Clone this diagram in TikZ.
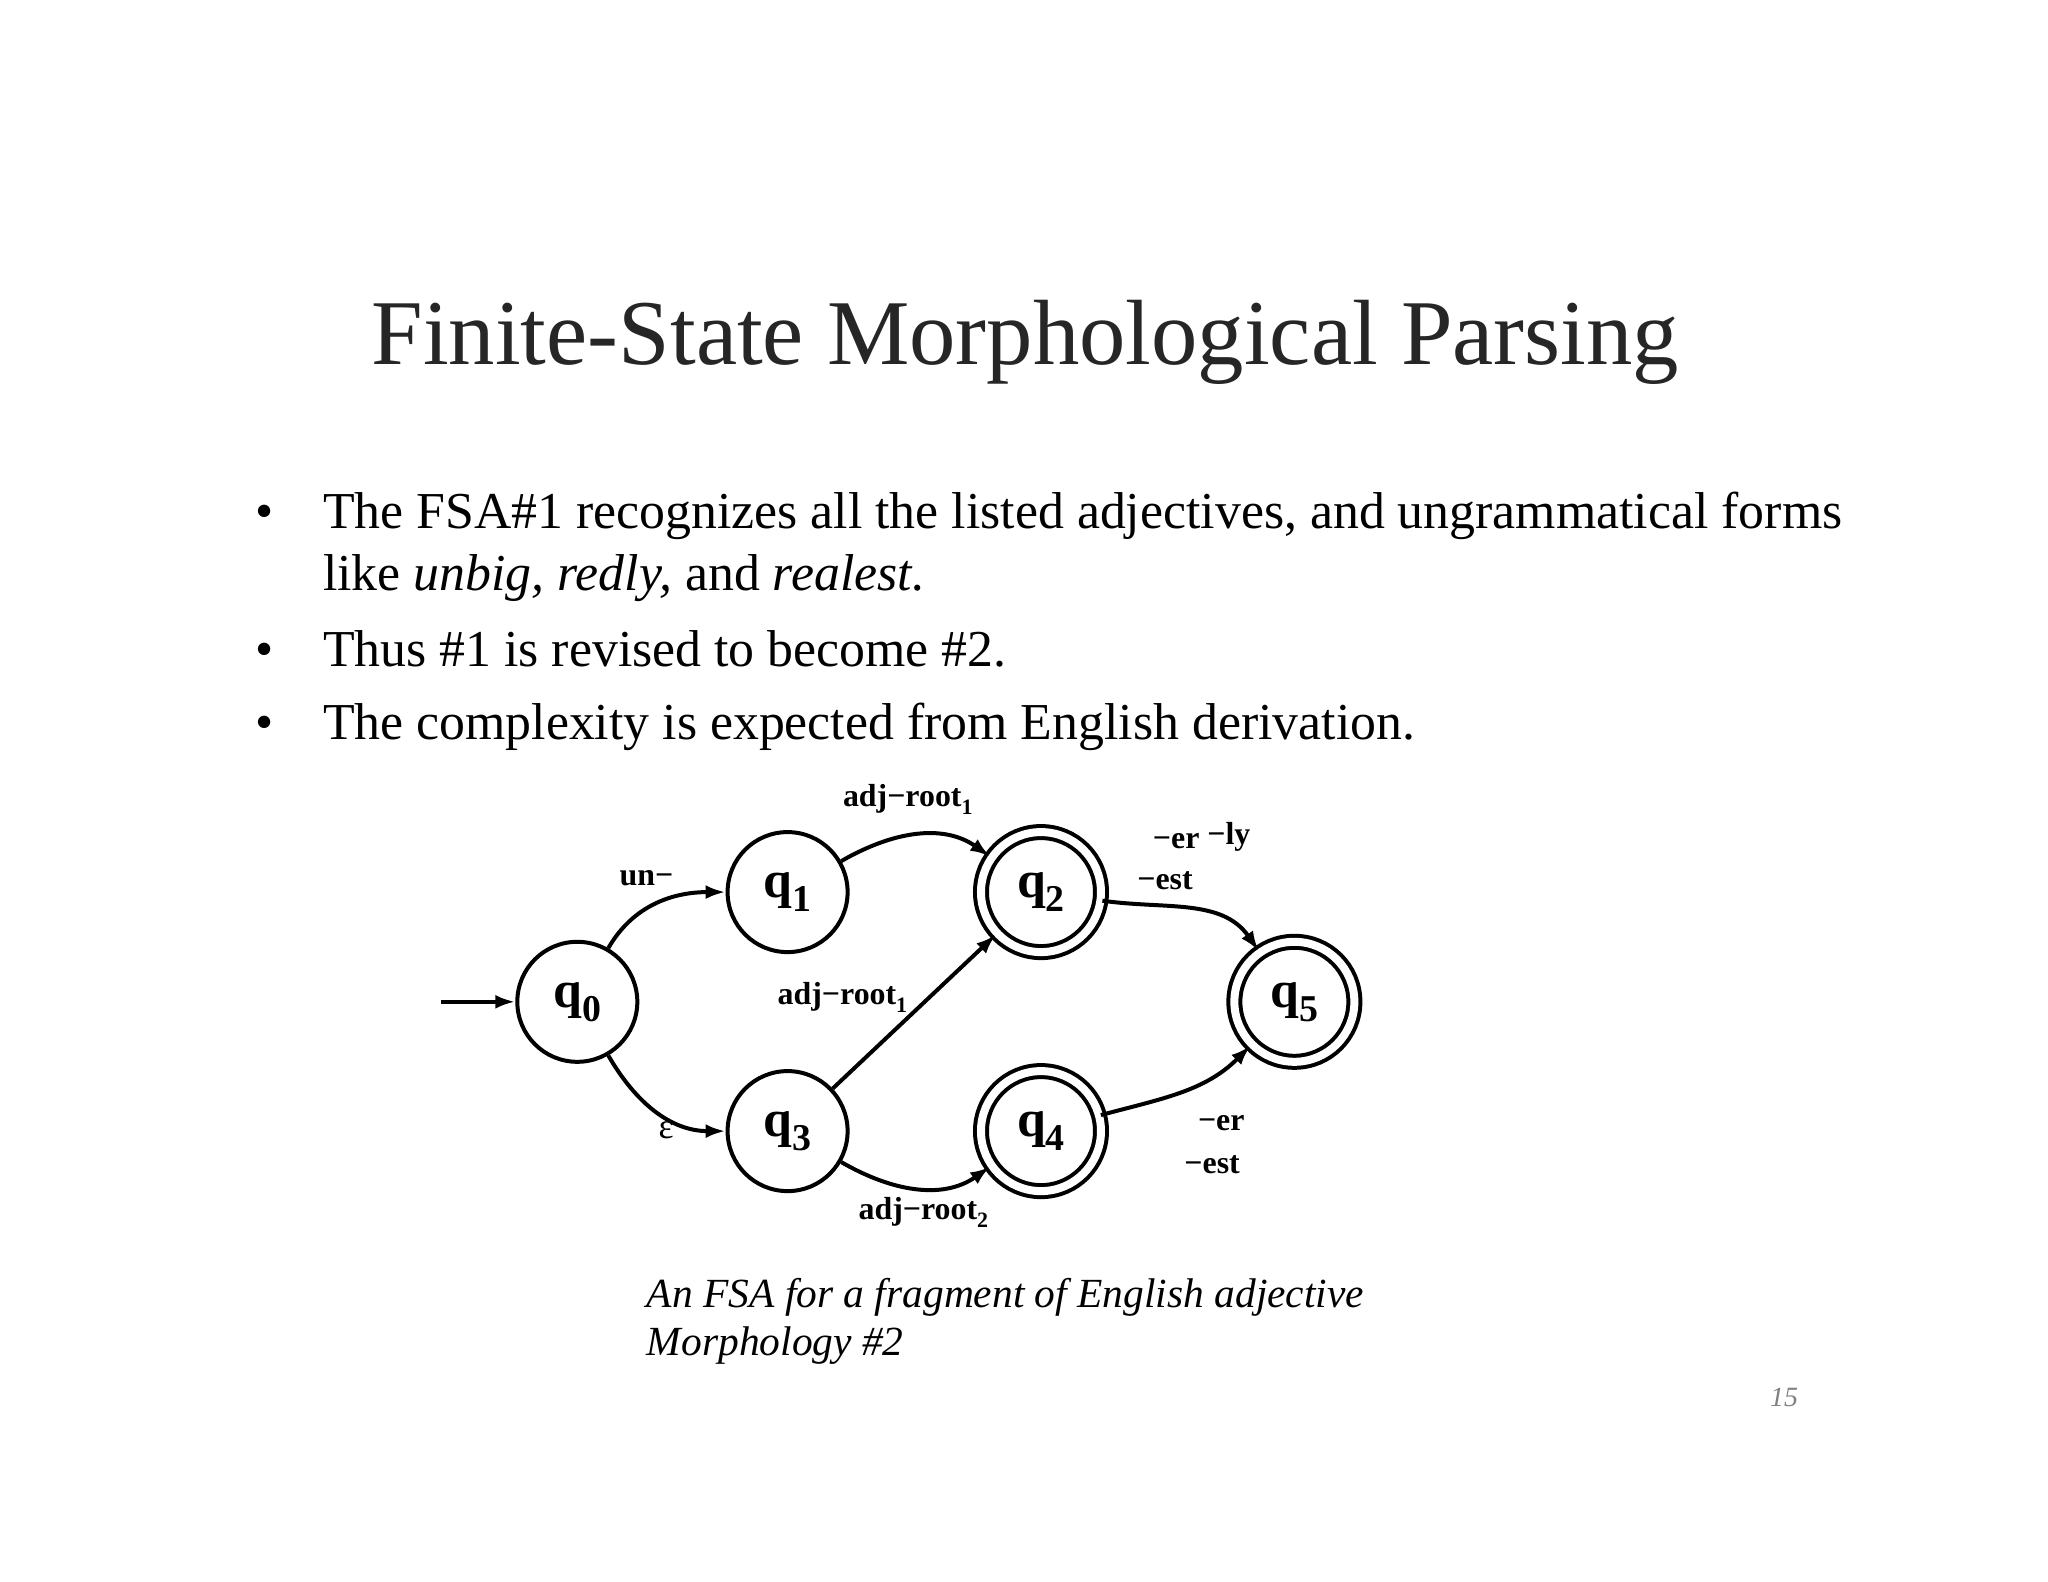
\documentclass[tikz,border=0pt]{standalone}
\usepackage{fontspec}
\setmainfont{Liberation Serif}
\usetikzlibrary{arrows.meta}
\newcommand{\qs}[2]{#1\raisebox{-7bp}{\fontsize{19}{19}\bfseries\selectfont #2}}
\newcommand{\ls}[1]{\raisebox{-4bp}{\fontsize{11}{11}\bfseries\selectfont #1}}
\begin{document}
\begin{tikzpicture}[x=0.653bp,y=-0.653bp,
  st/.style={circle,draw,line width=2bp,minimum size=60bp,inner sep=0pt,font=\fontsize{26}{26}\bfseries\selectfont},
  acc/.style={st,double,double distance=4bp},
  ed/.style={line width=2bp,-{Latex[length=10bp,width=7bp]}},
  lb/.style={font=\fontsize{16}{18}\bfseries\selectfont},
  bl/.style={anchor=base west,inner sep=0pt,font=\fontsize{26}{30}\selectfont}]
\useasboundingbox (0,0) rectangle (1568,1211);
\node[font=\fontsize{46.5}{50}\selectfont,color=black!85] (title) at (785,262) {Finite-State Morphological Parsing};
\node[bl] (b1) at (195,405) {•};
\node[bl] (t1) at (247,405) {The FSA\#1 recognizes all the listed adjectives, and ungrammatical forms};
\node[bl] (t1b) at (247,452) {like \textit{unbig, redly,} and \textit{realest.}};
\node[bl] (b2) at (195,510) {•};
\node[bl] (t2) at (247,510) {Thus \#1 is revised to become \#2.};
\node[bl] (b3) at (195,566) {•};
\node[bl] (t3) at (247,566) {The complexity is expected from English derivation.};
\node[st] (q0) at (442,767) {\qs{q}{0}};
\node[st] (q1) at (603,683) {\qs{q}{1}};
\node[acc] (q2) at (797,683) {\qs{q}{2}};
\node[st] (q3) at (603,866) {\qs{q}{3}};
\node[acc] (q4) at (797,866) {\qs{q}{4}};
\node[acc] (q5) at (991,767) {\qs{q}{5}};
\coordinate (start) at (338,767);
\draw[ed] (start) -- (q0);
\draw[ed] (q0) to[out=60,in=180] (q1);
\draw[ed] (q0) to[out=-60,in=180] (q3);
\draw[ed] (q1) to[out=30,in=145] (q2);
\draw[ed] (q3) to[out=-30,in=-145] (q4);
\draw[ed] (q3) -- (q2);
\draw[ed] (q2) to[out=-8,in=125] (q5);
\draw[ed] (q4) to[out=15,in=-135] (q5);
\node[lb] (l1) at (695,612) {adj−root\ls{1}};
\node[lb] (l2) at (495,672) {un−};
\node[lb] (l3) at (920,641) {−er \raisebox{2bp}{−ly}};
\node[lb] (l4) at (892,674) {−est};
\node[lb] (l5) at (645,764) {adj−root\ls{1}};
\node[font=\fontsize{18}{18}\selectfont] (l6) at (510,865) {ε};
\node[lb] (l7) at (707,928) {adj−root\ls{2}};
\node[lb] (l8) at (935,860) {−er};
\node[lb] (l9) at (928,892) {−est};
\node[anchor=base west,inner sep=0pt,font=\fontsize{20.8}{24}\itshape\selectfont] (c1) at (495,1001) {An FSA for a fragment of English adjective};
\node[anchor=base west,inner sep=0pt,font=\fontsize{20.8}{24}\itshape\selectfont] (c2) at (495,1038) {Morphology \#2};
\node[font=\fontsize{14}{14}\itshape\selectfont,color=black!50] (pn) at (1366,1070) {15};
\end{tikzpicture}
\end{document}
